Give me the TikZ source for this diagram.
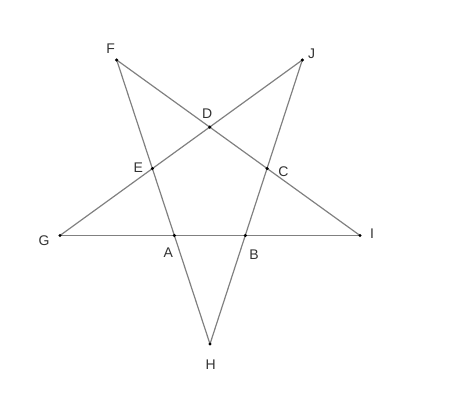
\documentclass[tikz,border=0pt]{standalone}
\usepackage{fontspec}
\setmainfont{Liberation Sans}
\begin{document}
\begin{tikzpicture}[x=0.75pt,y=-0.75pt,
  seg/.style={draw=black!50,line width=0.9pt},
  pt/.style={circle,fill=black,inner sep=0pt,minimum size=2.6pt},
  lab/.style={text=black!80,font=\fontsize{10.5}{12}\selectfont,inner sep=0pt}]
\useasboundingbox (0,0) rectangle (474,406);
\coordinate (F) at (116.7,60);
\coordinate (J) at (302.3,60);
\coordinate (G) at (60,235.5);
\coordinate (I) at (360,235.5);
\coordinate (H) at (210,344);
\coordinate (D) at (intersection of F--I and G--J);
\coordinate (E) at (intersection of F--H and G--J);
\coordinate (C) at (intersection of F--I and J--H);
\coordinate (A) at (intersection of F--H and G--I);
\coordinate (B) at (intersection of J--H and G--I);
\draw[seg] (F) -- (I);
\draw[seg] (F) -- (H);
\draw[seg] (J) -- (G);
\draw[seg] (J) -- (H);
\draw[seg] (G) -- (I);
\foreach \p in {F,J,G,I,H,D,E,C,A,B} \node[pt] (p\p) at (\p) {};
\node[lab] (lF) at (110.7,49) {F};
\node[lab] (lJ) at (311.7,54) {J};
\node[lab] (lG) at (44,241) {G};
\node[lab] (lI) at (372,233.5) {I};
\node[lab] (lH) at (210.7,365) {H};
\node[lab] (lD) at (207.3,113.3) {D};
\node[lab] (lE) at (138.3,167.3) {E};
\node[lab] (lC) at (283.3,171.7) {C};
\node[lab] (lA) at (168.3,252.3) {A};
\node[lab] (lB) at (254,255) {B};
\end{tikzpicture}
\end{document}
